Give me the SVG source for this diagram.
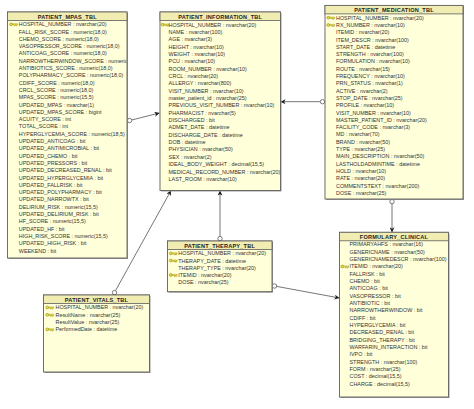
<svg xmlns="http://www.w3.org/2000/svg" xmlns:xlink="http://www.w3.org/1999/xlink" width="474" height="409" viewBox="0 0 474 409">
<style>
.bg{fill:#ffffff}
.sh{fill:#9a9a9a}
.box{fill:#ffffd9;stroke:#5e5e5e;stroke-width:0.9}
.hdr{fill:#f0ecb2;stroke:#5e5e5e;stroke-width:0.8}
.t{font-family:"Liberation Sans",Arial,sans-serif;font-size:5.4px;fill:#333333}
.h{font-family:"Liberation Sans",Arial,sans-serif;font-size:5.6px;font-weight:bold;fill:#1e1e1e;text-anchor:middle;letter-spacing:0.2px}
.c{stroke:#666666;stroke-width:0.9;fill:none}
.o{fill:#ffffff;stroke:#5a5a5a;stroke-width:0.8}
</style>
<defs>
<marker id="arr" viewBox="0 0 8 8" refX="8" refY="4" markerWidth="5" markerHeight="5" orient="auto" markerUnits="userSpaceOnUse">
<path d="M0,0 L8,4 L0,8 L2.2,4 Z" fill="#1e1e1e"/>
</marker>
<g id="key">
<circle cx="1.8" cy="0" r="1.4" fill="#ece24a" stroke="#8f8400" stroke-width="0.6"/>
<path d="M3.2,-0.6 H8.2 V0.6 H7.4 V1.6 H6.6 V0.6 H5.8 V1.4 H5 V0.6 H3.2 Z" fill="#ece24a" stroke="#8f8400" stroke-width="0.4"/>
</g>
<clipPath id="cpM"><rect x="7.5" y="12" width="119" height="246"/></clipPath>
<clipPath id="cpI"><rect x="160" y="12" width="120" height="178"/></clipPath>
</defs>
<rect class="bg" x="0" y="0" width="474" height="409"/>

<g id="connectors">
<line class="c" x1="131.6" y1="120" x2="159.5" y2="113" marker-end="url(#arr)"/>
<circle class="o" cx="129.6" cy="120.5" r="2.2"/>
<line class="c" x1="320.3" y1="101.7" x2="280.5" y2="101.7" marker-end="url(#arr)"/>
<circle class="o" cx="322.5" cy="101.7" r="2.2"/>
<line class="c" x1="220" y1="236.3" x2="220" y2="190.5" marker-end="url(#arr)"/>
<circle class="o" cx="220" cy="238.6" r="2.2"/>
<line class="c" x1="115.6" y1="290.5" x2="171" y2="190.5" marker-end="url(#arr)"/>
<circle class="o" cx="114.5" cy="292.6" r="2.2"/>
<line class="c" x1="392" y1="203.8" x2="392" y2="232.3" marker-end="url(#arr)"/>
<circle class="o" cx="392" cy="201.6" r="2.2"/>
<line class="c" x1="276.7" y1="286.4" x2="339.5" y2="298" marker-end="url(#arr)"/>
<circle class="o" cx="274.5" cy="286" r="2.2"/>
</g>

<g id="PATIENT_MPAS_TBL">
<rect class="sh" x="8.5" y="13" width="119.5" height="246"/>
<rect class="box" x="7.5" y="12" width="119.5" height="246"/>
<rect class="hdr" x="7.5" y="12" width="119.5" height="8.5"/>
<text class="h" x="67.2" y="18.5">PATIENT_MPAS_TBL</text>
<use xlink:href="#key" x="9.3" y="24.3"/>
<text class="t" x="18.8" y="26.2" clip-path="url(#cpM)"><tspan x="18.8" dy="0">HOSPITAL_NUMBER : nvarchar(20)</tspan><tspan x="18.8" dy="7.3">FALL_RISK_SCORE : numeric(18,0)</tspan><tspan x="18.8" dy="7.3">CHEMO_SCORE : numeric(18,0)</tspan><tspan x="18.8" dy="7.3">VASOPRESSOR_SCORE : numeric(18,0)</tspan><tspan x="18.8" dy="7.3">ANTICOAG_SCORE : numeric(18,0)</tspan><tspan x="18.8" dy="7.3">NARROWTHERWINDOW_SCORE : numeric(18,0)</tspan><tspan x="18.8" dy="7.3">ANTIBIOTICS_SCORE : numeric(18,0)</tspan><tspan x="18.8" dy="7.3">POLYPHARMACY_SCORE : numeric(18,0)</tspan><tspan x="18.8" dy="7.3">CDIFF_SCORE : numeric(18,0)</tspan><tspan x="18.8" dy="7.3">CRCL_SCORE : numeric(18,0)</tspan><tspan x="18.8" dy="7.3">MPAS_SCORE : numeric(15,5)</tspan><tspan x="18.8" dy="7.3">UPDATED_MPAS : nvarchar(1)</tspan><tspan x="18.8" dy="7.3">UPDATED_MPAS_SCORE : bigint</tspan><tspan x="18.8" dy="7.3">ACUITY_SCORE : int</tspan><tspan x="18.8" dy="7.3">TOTAL_SCORE : int</tspan><tspan x="18.8" dy="7.3">HYPERGLYCEMIA_SCORE : numeric(18,5)</tspan><tspan x="18.8" dy="7.3">UPDATED_ANTICOAG : bit</tspan><tspan x="18.8" dy="7.3">UPDATED_ANTIMICROBIAL : bit</tspan><tspan x="18.8" dy="7.3">UPDATED_CHEMO : bit</tspan><tspan x="18.8" dy="7.3">UPDATED_PRESSORS : bit</tspan><tspan x="18.8" dy="7.3">UPDATED_DECREASED_RENAL : bit</tspan><tspan x="18.8" dy="7.3">UPDATED_HYPERGLYCEMIA : bit</tspan><tspan x="18.8" dy="7.3">UPDATED_FALLRISK : bit</tspan><tspan x="18.8" dy="7.3">UPDATED_POLYPHARMACY : bit</tspan><tspan x="18.8" dy="7.3">UPDATED_NARROWTX : bit</tspan><tspan x="18.8" dy="7.3">DELIRIUM_RISK : numeric(15,5)</tspan><tspan x="18.8" dy="7.3">UPDATED_DELIRIUM_RISK : bit</tspan><tspan x="18.8" dy="7.3">HF_SCORE : numeric(15,5)</tspan><tspan x="18.8" dy="7.3">UPDATED_HF : bit</tspan><tspan x="18.8" dy="7.3">HIGH_RISK_SCORE : numeric(15,5)</tspan><tspan x="18.8" dy="7.3">UPDATED_HIGH_RISK : bit</tspan><tspan x="18.8" dy="7.3">WEEKEND : bit</tspan></text>
</g>

<g id="PATIENT_INFORMATION_TBL">
<rect class="sh" x="161" y="13" width="120.5" height="178.5"/>
<rect class="box" x="160" y="12" width="120.5" height="178.5"/>
<rect class="hdr" x="160" y="12" width="120.5" height="8.5"/>
<text class="h" x="220.2" y="18.5">PATIENT_INFORMATION_TBL</text>
<use xlink:href="#key" x="160.8" y="24.6"/>
<text class="t" x="168.6" y="26.5" clip-path="url(#cpI)"><tspan x="168.6" dy="0">HOSPITAL_NUMBER : nvarchar(20)</tspan><tspan x="168.6" dy="7.35">NAME : nvarchar(100)</tspan><tspan x="168.6" dy="7.35">AGE : nvarchar(3)</tspan><tspan x="168.6" dy="7.35">HEIGHT : nvarchar(10)</tspan><tspan x="168.6" dy="7.35">WEIGHT : nvarchar(10)</tspan><tspan x="168.6" dy="7.35">PCU : nvarchar(10)</tspan><tspan x="168.6" dy="7.35">ROOM_NUMBER : nvarchar(10)</tspan><tspan x="168.6" dy="7.35">CRCL : nvarchar(20)</tspan><tspan x="168.6" dy="7.35">ALLERGY : nvarchar(800)</tspan><tspan x="168.6" dy="7.35">VISIT_NUMBER : nvarchar(10)</tspan><tspan x="168.6" dy="7.35">master_patient_id : nvarchar(25)</tspan><tspan x="168.6" dy="7.35">PREVIOUS_VISIT_NUMBER : nvarchar(10)</tspan><tspan x="168.6" dy="7.35">PHARMACIST : nvarchar(5)</tspan><tspan x="168.6" dy="7.35">DISCHARGED : bit</tspan><tspan x="168.6" dy="7.35">ADMET_DATE : datetime</tspan><tspan x="168.6" dy="7.35">DISCHARGE_DATE : datetime</tspan><tspan x="168.6" dy="7.35">DOB : datetime</tspan><tspan x="168.6" dy="7.35">PHYSICIAN : nvarchar(50)</tspan><tspan x="168.6" dy="7.35">SEX : nvarchar(2)</tspan><tspan x="168.6" dy="7.35">IDEAL_BODY_WEIGHT : decimal(15,5)</tspan><tspan x="168.6" dy="7.35">MEDICAL_RECORD_NUMBER : nvarchar(20)</tspan><tspan x="168.6" dy="7.35">LAST_ROOM : nvarchar(10)</tspan></text>
</g>

<g id="PATIENT_MEDICATION_TBL">
<rect class="sh" x="326" y="6.4" width="138" height="193.6"/>
<rect class="box" x="325" y="5.4" width="138" height="193.6"/>
<rect class="hdr" x="325" y="5.4" width="138" height="8.5"/>
<text class="h" x="394" y="11.9">PATIENT_MEDICATION_TBL</text>
<use xlink:href="#key" x="326.5" y="17.7"/>
<use xlink:href="#key" x="326.5" y="25"/>
<text class="t" x="336" y="19.6"><tspan x="336" dy="0">HOSPITAL_NUMBER : nvarchar(20)</tspan><tspan x="336" dy="7.3">RX_NUMBER : nvarchar(10)</tspan><tspan x="336" dy="7.3">ITEMID : nvarchar(20)</tspan><tspan x="336" dy="7.3">ITEM_DESCR : nvarchar(100)</tspan><tspan x="336" dy="7.3">START_DATE : datetime</tspan><tspan x="336" dy="7.3">STRENGTH : nvarchar(100)</tspan><tspan x="336" dy="7.3">FORMULATION : nvarchar(10)</tspan><tspan x="336" dy="7.3">ROUTE : nvarchar(15)</tspan><tspan x="336" dy="7.3">FREQUENCY : nvarchar(10)</tspan><tspan x="336" dy="7.3">PRN_STATUS : nvarchar(1)</tspan><tspan x="336" dy="7.3">ACTIVE : nvarchar(2)</tspan><tspan x="336" dy="7.3">STOP_DATE : nvarchar(25)</tspan><tspan x="336" dy="7.3">PROFILE : nvarchar(10)</tspan><tspan x="336" dy="7.3">VISIT_NUMBER : nvarchar(10)</tspan><tspan x="336" dy="7.3">MASTER_PATIENT_ID : nvarchar(20)</tspan><tspan x="336" dy="7.3">FACILITY_CODE : nvarchar(3)</tspan><tspan x="336" dy="7.3">MD : nvarchar(70)</tspan><tspan x="336" dy="7.3">BRAND : nvarchar(50)</tspan><tspan x="336" dy="7.3">TYPE : nvarchar(25)</tspan><tspan x="336" dy="7.3">MAIN_DESCRIPTION : nvarchar(50)</tspan><tspan x="336" dy="7.3">LASTHOLDADMINTIME : datetime</tspan><tspan x="336" dy="7.3">HOLD : nvarchar(10)</tspan><tspan x="336" dy="7.3">RATE : nvarchar(20)</tspan><tspan x="336" dy="7.3">COMMENTSTEXT : nvarchar(200)</tspan><tspan x="336" dy="7.3">DOSE : nvarchar(25)</tspan></text>
</g>

<g id="FORMULARY_CLINICAL">
<rect class="sh" x="340.5" y="233.3" width="109" height="164.7"/>
<rect class="box" x="339.5" y="232.3" width="109" height="164.7"/>
<rect class="hdr" x="339.5" y="232.3" width="109" height="8.5"/>
<text class="h" x="394" y="238.8">FORMULARY_CLINICAL</text>
<use xlink:href="#key" x="340.5" y="266.5"/>
<text class="t" x="349.5" y="246.4"><tspan x="349.5" dy="0">PRIMARYAHFS : nvarchar(16)</tspan><tspan x="349.5" dy="7.33">GENERICNAME : nvarchar(50)</tspan><tspan x="349.5" dy="7.33">GENERICNAMEDESCR : nvarchar(100)</tspan><tspan x="349.5" dy="7.33">ITEMID : nvarchar(20)</tspan><tspan x="349.5" dy="7.33">FALLRISK : bit</tspan><tspan x="349.5" dy="7.33">CHEMO : bit</tspan><tspan x="349.5" dy="7.33">ANTICOAG : bit</tspan><tspan x="349.5" dy="7.33">VASOPRESSOR : bit</tspan><tspan x="349.5" dy="7.33">ANTIBIOTIC : bit</tspan><tspan x="349.5" dy="7.33">NARROWTHERWINDOW : bit</tspan><tspan x="349.5" dy="7.33">CDIFF : bit</tspan><tspan x="349.5" dy="7.33">HYPERGLYCEMIA : bit</tspan><tspan x="349.5" dy="7.33">DECREASED_RENAL : bit</tspan><tspan x="349.5" dy="7.33">BRIDGING_THERAPY : bit</tspan><tspan x="349.5" dy="7.33">WARFARIN_INTERACTION : bit</tspan><tspan x="349.5" dy="7.33">IVPO : bit</tspan><tspan x="349.5" dy="7.33">STRENGTH : nvarchar(100)</tspan><tspan x="349.5" dy="7.33">FORM : nvarchar(25)</tspan><tspan x="349.5" dy="7.33">COST : decimal(15,5)</tspan><tspan x="349.5" dy="7.33">CHARGE : decimal(15,5)</tspan></text>
</g>

<g id="PATIENT_THERAPY_TBL">
<rect class="sh" x="168.5" y="242" width="104.5" height="50.7"/>
<rect class="box" x="167.5" y="241" width="104.5" height="50.7"/>
<rect class="hdr" x="167.5" y="241" width="104.5" height="8.5"/>
<text class="h" x="219.7" y="247.5">PATIENT_THERAPY_TBL</text>
<use xlink:href="#key" x="169" y="253.4"/>
<use xlink:href="#key" x="169" y="260.6"/>
<use xlink:href="#key" x="169" y="275"/>
<text class="t" x="178.3" y="255.3"><tspan x="178.3" dy="0">HOSPITAL_NUMBER : nvarchar(20)</tspan><tspan x="178.3" dy="7.2">THERAPY_DATE : datetime</tspan><tspan x="178.3" dy="7.2">THERAPY_TYPE : nvarchar(20)</tspan><tspan x="178.3" dy="7.2">ITEMID : nvarchar(20)</tspan><tspan x="178.3" dy="7.2">DOSE : nvarchar(25)</tspan></text>
</g>

<g id="PATIENT_VITALS_TBL">
<rect class="sh" x="44.5" y="296" width="106" height="77"/>
<rect class="box" x="43.5" y="295" width="106" height="77"/>
<rect class="hdr" x="43.5" y="295" width="106" height="8.5"/>
<text class="h" x="96.5" y="301.5">PATIENT_VITALS_TBL</text>
<use xlink:href="#key" x="45.5" y="307.5"/>
<use xlink:href="#key" x="45.5" y="314.8"/>
<use xlink:href="#key" x="45.5" y="329.4"/>
<text class="t" x="55.5" y="309.4"><tspan x="55.5" dy="0">HOSPITAL_NUMBER : nvarchar(20)</tspan><tspan x="55.5" dy="7.3">ResultName : nvarchar(25)</tspan><tspan x="55.5" dy="7.3">ResultValue : nvarchar(25)</tspan><tspan x="55.5" dy="7.3">PerformedDate : datetime</tspan></text>
</g>
</svg>
